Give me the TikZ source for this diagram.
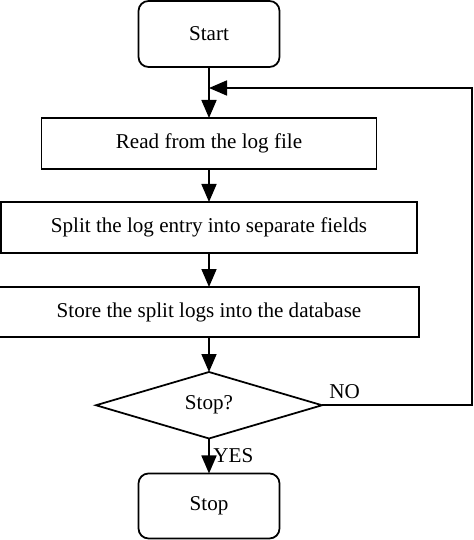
\documentclass[tikz,border=0pt]{standalone}
\usepackage{fontspec}
\setmainfont{Liberation Serif}
\usetikzlibrary{arrows.meta,positioning,shapes.geometric}

\begin{document}
\begin{tikzpicture}[
    node distance=6.6mm,
    box/.style={draw, line width=1pt, outer sep=0pt, minimum height=10.2mm, inner sep=4pt, font=\fontsize{12}{14}\selectfont},
    term/.style={box, rounded corners=2mm, minimum width=28.2mm, minimum height=13.2mm},
    decide/.style={box, diamond, minimum width=45.2mm, minimum height=13.2mm, inner sep=0pt},
    lbl/.style={font=\fontsize{12}{14}\selectfont, inner sep=2pt},
    flow/.style={-{Triangle[length=3.6mm, width=3mm]}, line width=1pt}]
  \useasboundingbox (0,0) rectangle (9.48,-10.8);
  \node[term] (start) at (4.18,-0.68) {Start};
  \node[box, minimum width=67mm, below=10.2mm of start] (read) {Read from the log file};
  \node[box, minimum width=83.2mm, below=of read] (split) {Split the log entry into separate fields};
  \node[box, minimum width=84mm, minimum height=10mm, below=6.8mm of split] (store) {Store the split logs into the database};
  \node[decide, below=7mm of store] (dec) {Stop?};
  \node[term, minimum height=13mm, below=7mm of dec] (stop) {Stop};
  \coordinate[above=6mm of read] (join);
  \coordinate (back) at (9.44,0);
  % main flow
  \draw[flow] (start) -- (read);
  \draw[flow] (read) -- (split);
  \draw[flow] (split) -- (store);
  \draw[flow] (store) -- (dec);
  \draw[flow] (dec) -- node[lbl, right]{YES} (stop);
  % loop back
  \draw[flow] (dec.east) -- node[lbl, pos=0.02, anchor=south west, yshift=1pt]{NO} (dec.east -| back) |- (join);
\end{tikzpicture}
\end{document}
